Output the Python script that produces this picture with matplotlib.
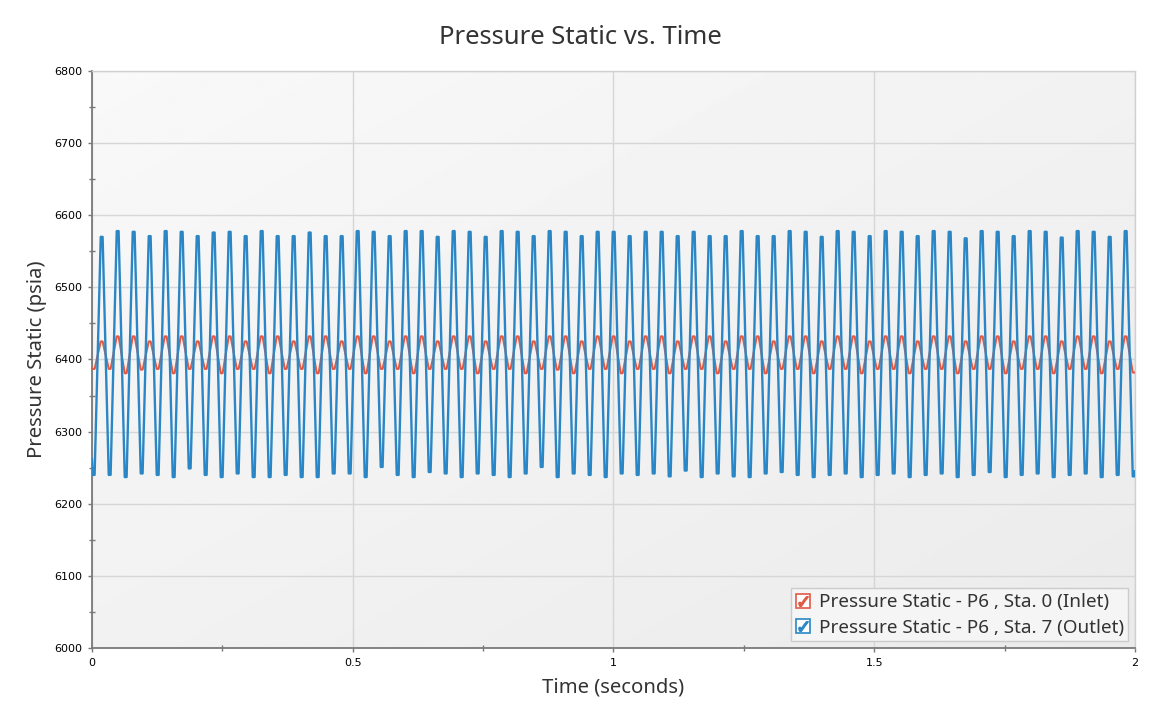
import numpy as np
import matplotlib.pyplot as plt
from matplotlib.lines import Line2D
from matplotlib.legend_handler import HandlerTuple
from matplotlib.ticker import MultipleLocator, FuncFormatter

# values: alternating trough / peak, one pair per cycle
blue_start, blue_end = 6262, 6245
blue_troughs = [6240, 6240, 6237, 6242, 6240, 6237, 6249, 6240, 6237, 6242,
                6237, 6237, 6240, 6237, 6237, 6242, 6242, 6237, 6251, 6240,
                6237, 6244, 6242, 6237, 6242, 6240, 6237, 6242, 6251, 6237,
                6242, 6240, 6237, 6242, 6240, 6242, 6238, 6246, 6237, 6242,
                6238, 6237, 6242, 6244, 6240, 6237, 6240, 6242, 6237, 6240,
                6242, 6237, 6240, 6242, 6237, 6240, 6244, 6237, 6240, 6242,
                6237, 6240, 6242, 6237, 6240, 6238]
blue_peaks = [6570, 6578, 6577, 6571, 6578, 6577, 6571, 6576, 6577, 6571,
              6578, 6571, 6571, 6576, 6571, 6571, 6578, 6577, 6571, 6578,
              6578, 6570, 6578, 6577, 6570, 6578, 6577, 6571, 6578, 6577,
              6571, 6577, 6577, 6571, 6577, 6577, 6571, 6577, 6571, 6571,
              6578, 6571, 6571, 6578, 6577, 6570, 6578, 6577, 6571, 6578,
              6577, 6571, 6578, 6577, 6568, 6578, 6577, 6571, 6578, 6577,
              6569, 6578, 6577, 6570, 6578]

red_start, red_end = 6388, 6382
red_troughs = [6387, 6387, 6381, 6386, 6387, 6381, 6387, 6387, 6381, 6387,
               6387, 6381, 6387, 6387, 6381, 6387, 6387, 6381, 6387, 6387,
               6381, 6387, 6387, 6387, 6381, 6387, 6387, 6381, 6387, 6386,
               6381, 6387, 6387, 6381, 6387, 6387, 6381, 6387, 6387, 6381,
               6387, 6387, 6381, 6387, 6387, 6381, 6387, 6387, 6381, 6387,
               6387, 6381, 6387, 6387, 6381, 6387, 6387, 6381, 6387, 6387,
               6381, 6387, 6387, 6381, 6387, 6382]
red_peaks = [6425, 6432, 6432, 6425, 6432, 6432, 6425, 6432, 6432, 6425,
             6432, 6432, 6425, 6432, 6432, 6425, 6432, 6432, 6425, 6432,
             6432, 6425, 6432, 6432, 6425, 6432, 6432, 6425, 6432, 6432,
             6425, 6432, 6432, 6425, 6432, 6432, 6425, 6432, 6432, 6425,
             6432, 6432, 6425, 6432, 6432, 6425, 6432, 6432, 6425, 6432,
             6432, 6425, 6432, 6432, 6425, 6432, 6432, 6425, 6432, 6432,
             6425, 6432, 6432, 6425, 6432]

first_trough_t = 0.0033   # time of the first trough (s)
half_period = 0.01534     # trough-to-peak spacing (s)
hold = 0.0018             # each extreme is held for about two samples


def series(start, troughs, peaks, end):
    ext = []
    for i in range(len(troughs)):
        ext.append(troughs[i])
        if i < len(peaks):
            ext.append(peaks[i])
    tc = first_trough_t + half_period * np.arange(len(ext))
    t = np.column_stack([tc - hold, tc + hold]).ravel()
    v = np.repeat(ext, 2)
    t = np.clip(t, 0, 2)
    return np.concatenate(([0.0], t, [2.0])), np.concatenate(([start], v, [end]))


t_b, p_b = series(blue_start, blue_troughs, blue_peaks, blue_end)
t_r, p_r = series(red_start, red_troughs, red_peaks, red_end)

blue = '#2a86c4'
red = '#e05a45'
txt = '#333333'

fig = plt.figure(figsize=(11.61, 7.25), dpi=100)
ax = fig.add_axes([0.0792, 0.1062, 0.8984, 0.7959])

# soft gradient background
grad = np.linspace(0, 1, 256)
gx, gy = np.meshgrid(grad, grad)
g = 0.975 - 0.055 * (0.5 * gx + 0.5 * (1 - gy))
ax.imshow(g, extent=[0, 1, 0, 1], transform=ax.transAxes, cmap='gray',
          vmin=0, vmax=1, aspect='auto', zorder=0, origin='lower')

ax.plot(t_r, p_r, color=red, lw=1.5, zorder=3, solid_joinstyle='round')
ax.plot(t_b, p_b, color=blue, lw=1.7, zorder=4, solid_joinstyle='round')

ax.set_xlim(0, 2)
ax.set_ylim(6000, 6800)
ax.xaxis.set_major_locator(MultipleLocator(0.5))
ax.xaxis.set_minor_locator(MultipleLocator(0.25))
ax.yaxis.set_major_locator(MultipleLocator(100))
ax.yaxis.set_minor_locator(MultipleLocator(50))
ax.xaxis.set_major_formatter(FuncFormatter(lambda v, p: f'{v:g}'))
ax.grid(True, which='major', color='#d6d6d6', lw=1.0, zorder=1)
ax.set_axisbelow(True)

ax.tick_params(which='major', direction='out', length=3, width=1,
               color='#777777', labelsize=8, labelcolor='black', pad=4)
ax.tick_params(which='minor', direction='inout', length=5, width=1, color='#777777')
for s in ['left', 'bottom']:
    ax.spines[s].set_color('#7a7a7a')
    ax.spines[s].set_linewidth(1.3)
for s in ['top', 'right']:
    ax.spines[s].set_color('#d0d0d0')
    ax.spines[s].set_linewidth(1.0)

ax.set_xlabel('Time (seconds)', fontsize=14.6, color=txt, family='Noto Sans', labelpad=7)
ax.set_ylabel('Pressure Static (psia)', fontsize=14.6, color=txt, family='Noto Sans', labelpad=5)
fig.text(0.5, 0.948, 'Pressure Static vs. Time', ha='center', va='center',
         fontsize=18.5, color=txt, family='Noto Sans')

handles = []
for c in [red, blue]:
    box = Line2D([], [], ls='none', marker='s', ms=10.5, mfc='white', mec=c, mew=1.2)
    chk = Line2D([], [], ls='none', marker=r'$\checkmark$', ms=7, color=c)
    handles.append((box, chk))
leg = ax.legend(handles, ['Pressure Static - P6 , Sta. 0 (Inlet)',
                          'Pressure Static - P6 , Sta. 7 (Outlet)'],
                handler_map={tuple: HandlerTuple(ndivide=1)},
                loc='lower right', fancybox=False, framealpha=1,
                facecolor='#f5f5f5', edgecolor='#cccccc',
                prop={'family': 'Noto Sans', 'size': 13.6},
                handlelength=0.8, handletextpad=0.4, borderpad=0.25,
                labelspacing=0.4, borderaxespad=0.35)
for tx in leg.get_texts():
    tx.set_color(txt)

fig.savefig('out.png', dpi=100)
